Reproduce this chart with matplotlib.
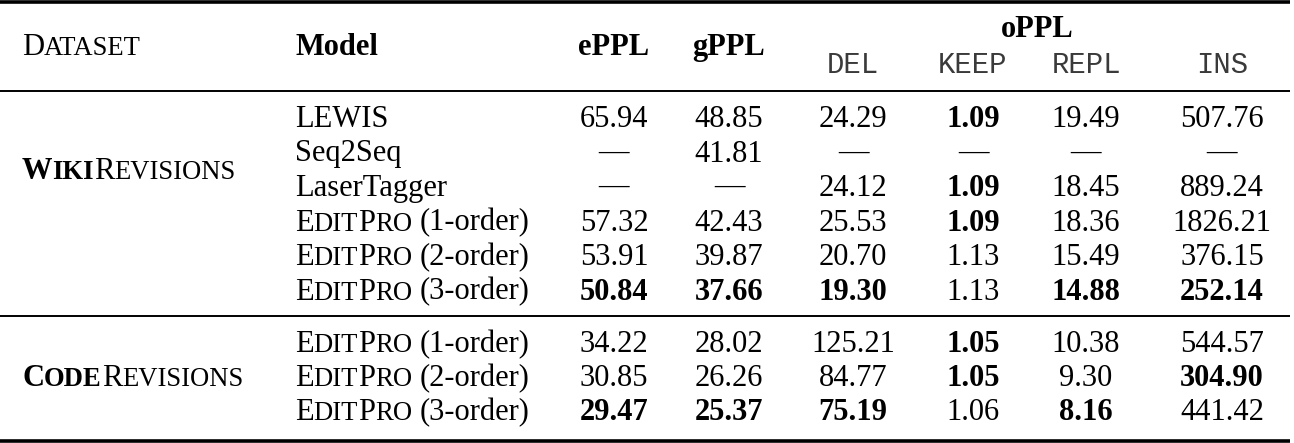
import matplotlib
matplotlib.use("Agg")
import matplotlib.pyplot as plt

# ---- table data ----
datasets = ["Wiki|Revisions", "Code|Revisions"]
metric_cols = ["ePPL", "gPPL"]
oppl_cols = ["DEL", "KEEP", "REPL", "INS"]

wiki_models = ["LEWIS", "Seq2Seq", "LaserTagger",
               "EditPro (1-order)", "EditPro (2-order)", "EditPro (3-order)"]
wiki_eppl = [65.94, None, None, 57.32, 53.91, 50.84]
wiki_gppl = [48.85, 41.81, None, 42.43, 39.87, 37.66]
wiki_del = [24.29, None, 24.12, 25.53, 20.70, 19.30]
wiki_keep = [1.09, None, 1.09, 1.09, 1.13, 1.13]
wiki_repl = [19.49, None, 18.45, 18.36, 15.49, 14.88]
wiki_ins = [507.76, None, 889.24, 1826.21, 376.15, 252.14]

code_models = ["EditPro (1-order)", "EditPro (2-order)", "EditPro (3-order)"]
code_eppl = [34.22, 30.85, 29.47]
code_gppl = [28.02, 26.26, 25.37]
code_del = [125.21, 84.77, 75.19]
code_keep = [1.05, 1.05, 1.06]
code_repl = [10.38, 9.30, 8.16]
code_ins = [544.57, 304.90, 441.42]

W, H = 1294, 443
FS = 22          # main font size (pt)
SC = 0.87        # small caps ratio
SERIF = "Liberation Serif"
MONO = "Liberation Mono"

fig = plt.figure(figsize=(W / 100, H / 100), dpi=100)
ax = fig.add_axes([0, 0, 1, 1])
ax.set_xlim(0, W)
ax.set_ylim(H, 0)
ax.axis("off")
renderer = fig.canvas.get_renderer()


def smallcaps(word, weight="normal"):
    # split a word into big/small capital runs
    pieces = []
    for ch in word:
        big = ch.isupper() or not ch.isalpha()
        size = FS if big else FS * SC
        if pieces and pieces[-1][1] == size:
            pieces[-1][0] += ch.upper()
        else:
            pieces.append([ch.upper(), size, weight])
    return pieces


def rich(x, y, pieces, ha="left"):
    arts = []
    total = 0
    for txt, size, weight in pieces:
        t = ax.text(0, y, txt, fontsize=size, fontweight=weight,
                    family=SERIF, va="baseline", ha="left", color="black")
        w = t.get_window_extent(renderer).width
        arts.append((t, w))
        total += w
    if ha == "center":
        x = x - total / 2
    for t, w in arts:
        t.set_x(x)
        x += w


def model_pieces(name):
    if name.startswith("EditPro"):
        rest = name[len("EditPro"):].strip()
        return smallcaps("EditPro") + [[" ", FS, "normal"], [rest, FS, "normal"]]
    return [[name, FS, "normal"]]


def dataset_pieces(name):
    bold, reg = name.split("|")
    return smallcaps(bold, "bold") + smallcaps(reg, "normal")


# column x centres
x_dataset = 22
x_model = 295
col_x = [614, 729, 853, 973, 1086, 1222]

# rules
ax.hlines(1.5, 0, 1290, color="black", lw=2.6)
ax.hlines(90.5, 0, 1290, color="black", lw=1.4)
ax.hlines(316, 0, 1290, color="black", lw=1.4)
ax.hlines(440.5, 0, 1290, color="black", lw=2.6)

# header
rich(x_dataset, 55, smallcaps("Dataset"))
ax.text(x_model, 55, "Model", fontsize=FS, fontweight="bold", family=SERIF,
        va="baseline", ha="left")
for name, x in zip(metric_cols, col_x[:2]):
    ax.text(x, 55, name, fontsize=FS, fontweight="bold", family=SERIF,
            va="baseline", ha="center")
ax.text((col_x[2] + col_x[5]) / 2, 37, "oPPL", fontsize=FS, fontweight="bold",
        family=SERIF, va="baseline", ha="center")
for name, x in zip(oppl_cols, col_x[2:]):
    ax.text(x, 73, name, fontsize=FS * 0.95, family=MONO, va="baseline",
            ha="center", color="#3a3a3a")


def draw_block(models, cols, base0, step, ds_name, ds_y):
    rich(x_dataset, ds_y, dataset_pieces(ds_name))
    best = [min(v for v in c if v is not None) for c in cols]
    for i, m in enumerate(models):
        y = base0 + i * step
        rich(x_model, y, model_pieces(m))
        for c, b, x in zip(cols, best, col_x):
            v = c[i]
            if v is None:
                ax.text(x, y - 2, "\u2014", fontsize=FS, family=SERIF,
                        va="baseline", ha="center")
            else:
                ax.text(x, y, f"{v:.2f}", fontsize=FS, family=SERIF,
                        fontweight="bold" if v == b else "normal",
                        va="baseline", ha="center")


draw_block(wiki_models,
           [wiki_eppl, wiki_gppl, wiki_del, wiki_keep, wiki_repl, wiki_ins],
           127, 34.5, datasets[0], 179)
draw_block(code_models,
           [code_eppl, code_gppl, code_del, code_keep, code_repl, code_ins],
           352.5, 34, datasets[1], 386)

fig.savefig("out.png", dpi=100)
